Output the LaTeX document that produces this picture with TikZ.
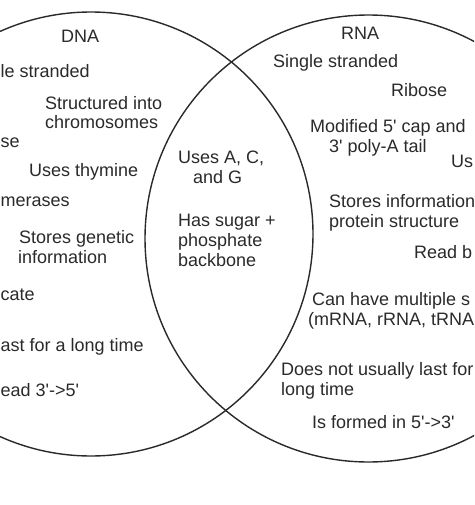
\documentclass[tikz,border=0pt]{standalone}
\usepackage{fontspec}
\setmainfont{Liberation Sans}
\definecolor{ink}{HTML}{2A2A2A}
\newcommand{\sq}{\textquotesingle}
\begin{document}
\begin{tikzpicture}[x=1pt,y=-1pt,
  txt/.style={inner sep=0pt, anchor=base west, text=ink, font=\fontsize{18}{20}\selectfont},
  ring/.style={draw=ink, line width=1.4pt}]
\useasboundingbox (0,0) rectangle (474,505);
\fill[white] (0,0) rectangle (474,505);
\begin{scope}
\clip (0,0) rectangle (474,505);
\draw[ring] (91,234) circle[radius=222];
\draw[ring] (368.5,238.5) circle[radius=223.5];
% DNA side
\node[txt] (dna) at (61,43) {DNA};
\node[txt] (dnaA) at (0.5,78) {le stranded};
\node[txt] (dnaB1) at (45,110) {Structured into};
\node[txt] (dnaB2) at (45,129) {chromosomes};
\node[txt] (dnaC) at (0.5,148) {se};
\node[txt] (dnaD) at (29,176) {Uses thymine};
\node[txt] (dnaE) at (0.5,206) {merases};
\node[txt] (dnaF1) at (19,243) {Stores genetic};
\node[txt] (dnaF2) at (18,263) {information};
\node[txt] (dnaG) at (0.5,300) {cate};
\node[txt] (dnaH) at (0.5,351) {ast for a long time};
\node[txt] (dnaI) at (0.5,396) {ead 3\sq->5\sq};
% shared
\node[txt] (bothA1) at (178,163) {Uses A, C,};
\node[txt] (bothA2) at (193,183) {and G};
\node[txt] (bothB1) at (178,226) {Has sugar +};
\node[txt] (bothB2) at (178,246) {phosphate};
\node[txt] (bothB3) at (178,266) {backbone};
% RNA side
\node[txt] (rna) at (341,40) {RNA};
\node[txt] (rnaA) at (273,68) {Single stranded};
\node[txt] (rnaB) at (391,97) {Ribose};
\node[txt] (rnaC1) at (310,132) {Modified 5\sq\ cap and};
\node[txt] (rnaC2) at (329,153) {3\sq\ poly-A tail};
\node[txt] (rnaD) at (451,167) {Us};
\node[txt] (rnaE1) at (329,207) {Stores information};
\node[txt] (rnaE2) at (329,227) {protein structure};
\node[txt] (rnaF) at (414,258) {Read b};
\node[txt] (rnaG1) at (312,305) {Can have multiple s};
\node[txt] (rnaG2) at (308,325) {(mRNA, rRNA, tRNA};
\node[txt] (rnaH1) at (281,375) {Does not usually last for};
\node[txt] (rnaH2) at (281,395) {long time};
\node[txt] (rnaI) at (312,428) {Is formed in 5\sq->3\sq};
\end{scope}
\end{tikzpicture}
\end{document}
